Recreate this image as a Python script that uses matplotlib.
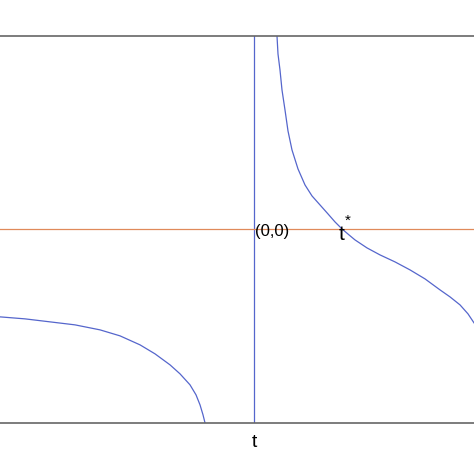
import matplotlib
matplotlib.use("Agg")
import matplotlib.pyplot as plt

plt.rcParams["font.family"] = ["Liberation Sans", "DejaVu Sans"]

# curve samples (origin at the (0,0) crossing)
left_x = [-254, -229, -204, -179, -154, -134, -114, -99, -84, -74, -64, -58, -54, -51, -49]
left_y = [-88, -90, -93, -96, -101, -107, -116, -125, -136, -145, -156, -166, -176, -186, -194]
right_x = [23, 24, 26, 28, 31, 34, 38, 44, 51, 58, 66, 74, 81, 88, 95, 101,
           113, 126, 141, 156, 171, 186, 196, 206, 214, 220]
right_y = [193, 175, 159, 139, 119, 98, 79, 60, 44, 33, 24, 15, 7, 0, -6, -11,
           -19, -26, -33, -41, -50, -61, -68, -76, -85, -94]

BLUE = "#5566cc"
ORANGE = "#e08a5a"

fig = plt.figure(figsize=(4.74, 4.74), dpi=100)
ax = fig.add_axes([0, 0.108, 1, 0.816])
ax.set_xlim(-254, 220)
ax.set_ylim(-194, 193)

ax.plot(left_x, left_y, color=BLUE, lw=0.9)
ax.plot(right_x, right_y, color=BLUE, lw=0.9)
ax.axvline(0, color=BLUE, lw=0.9)
ax.axhline(0, color=ORANGE, lw=0.9)

for side in ("left", "right"):
    ax.spines[side].set_visible(False)
for side in ("top", "bottom"):
    ax.spines[side].set_color("#666666")
    ax.spines[side].set_linewidth(1.2)

ax.set_xticks([0])
ax.set_xticklabels(["t"], fontsize=14)
ax.tick_params(axis="x", length=0, pad=8)
ax.set_yticks([])

ax.text(1, -3, "(0,0)", fontsize=12, ha="left", va="center")
ax.text(85, -6, "t", fontsize=15, ha="left", va="center")
ax.text(91, 8, "*", fontsize=11, ha="left", va="center")

fig.savefig("out.png", dpi=100, facecolor="white")
